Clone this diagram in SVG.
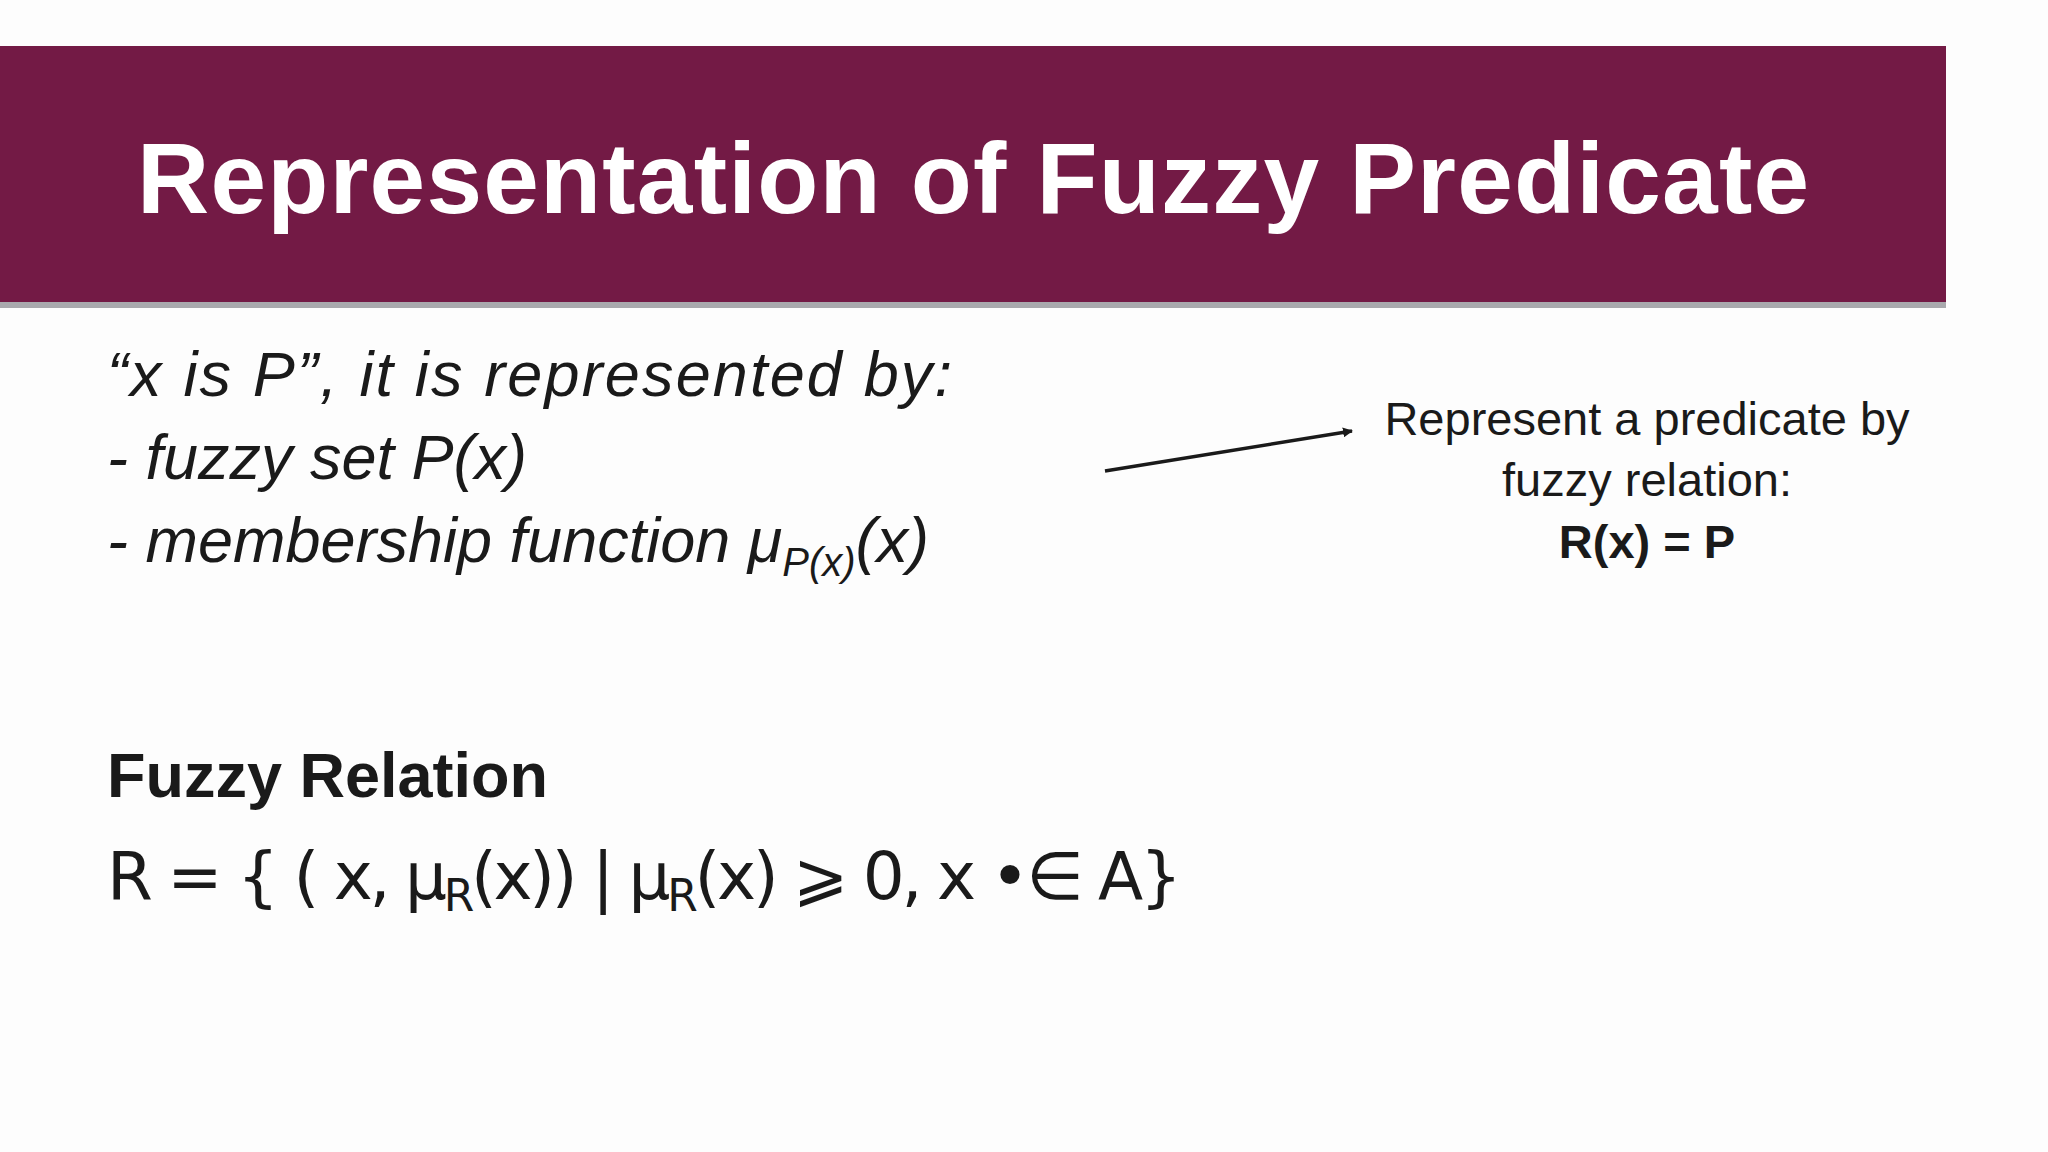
<svg xmlns="http://www.w3.org/2000/svg" width="2048" height="1152" viewBox="0 0 2048 1152">
<style>
.s{font-family:"Liberation Sans",Arial,sans-serif;fill:#1a1a1a}
.i{font-style:italic;font-size:63px}
.r{font-size:47px;text-anchor:middle}
.f{font-family:"DejaVu Sans","Liberation Sans",sans-serif;font-size:66px;fill:#1a1a1a}
</style>
<defs><marker id="ah" markerWidth="10" markerHeight="10" refX="9" refY="5" orient="auto" markerUnits="userSpaceOnUse" viewBox="0 0 10 10"><path d="M0,0L10,5L0,10z" fill="#1a1a1a"/></marker></defs>
<rect width="2048" height="1152" fill="#fdfdfd"/>
<g id="header">
<rect x="0" y="46" width="1946" height="256" fill="#731a45"/>
<rect x="0" y="302" width="1946" height="6" fill="#a9a9ad"/>
<text x="137" y="213" font-family="Liberation Sans,Arial,sans-serif" font-weight="bold" font-size="100" fill="#ffffff" textLength="1672">Representation of Fuzzy Predicate</text>
</g>
<g id="left">
<text class="s i" x="107" y="396" textLength="845">“x is P”, it is represented by:</text>
<text class="s i" x="107" y="479">- fuzzy set P(x)</text>
<text class="s i" x="107" y="562">- membership function μ<tspan font-size="40" dy="14">P(x)</tspan><tspan dy="-14">(x)</tspan></text>
</g>
<g id="connectors">
<line x1="1105" y1="471" x2="1352" y2="431" stroke="#1a1a1a" stroke-width="3.5" marker-end="url(#ah)"/>
</g>
<g id="right">
<text class="s r" x="1647" y="435">Represent a predicate by</text>
<text class="s r" x="1647" y="496">fuzzy relation:</text>
<text class="s r" x="1647" y="558" font-weight="bold">R(x) = P</text>
</g>
<g id="relation">
<text class="s" x="107" y="797" font-weight="bold" font-size="63">Fuzzy Relation</text>
<text class="f" x="107" y="899" textLength="1075">R = { ( x, μ<tspan font-size="44" dy="12">R</tspan><tspan dy="-12">(x)) | μ</tspan><tspan font-size="44" dy="12">R</tspan><tspan dy="-12">(x) ⩾ 0, x •∈ A}</tspan></text>
</g>
</svg>
